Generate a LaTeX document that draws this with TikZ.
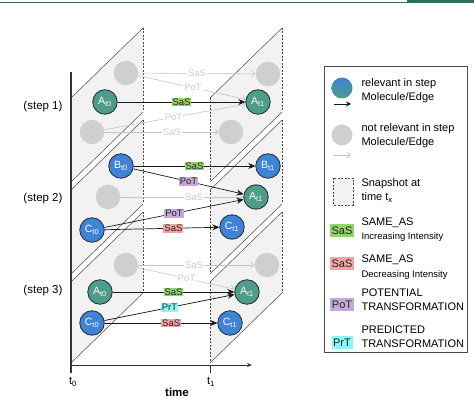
\documentclass[tikz,border=0pt]{standalone}
\usepackage{fontspec}
\setmainfont{Liberation Sans}
\usetikzlibrary{arrows.meta}
\definecolor{tealA}{HTML}{4E9C89}
\definecolor{blueC}{HTML}{3F82D6}
\definecolor{nodeborder}{HTML}{1E3130}
\definecolor{grayC}{HTML}{CFCFCF}
\definecolor{planefill}{HTML}{F2F2F2}
\definecolor{planeline}{HTML}{4A4A4A}
\definecolor{lightedge}{HTML}{C4C4C4}
\definecolor{lighttext}{HTML}{CDCDCD}
\definecolor{labgreen}{HTML}{93D36B}
\definecolor{labred}{HTML}{F2A3A3}
\definecolor{labpurple}{HTML}{C5A8D8}
\definecolor{labcyan}{HTML}{8AF7F7}
\definecolor{rulegreen}{HTML}{2F6F4F}
\newcommand{\snapplane}[3]{%
  \fill[planefill] (#1,#2+70) -- (#1+72,#2) -- (#1+72,#3) -- (#1,#3+70) -- cycle;
  \draw[planeedge] (#1,#2+70) -- (#1+72,#2) (#1,#3+70) -- (#1+72,#3);
  \draw[planedash] (#1,#2+70) -- (#1,#3+70) (#1+72,#2) -- (#1+72,#3);}
\begin{document}
\begin{tikzpicture}[x=1pt,y=-1pt,
  planeedge/.style={draw=planeline, line width=0.5pt},
  planedash/.style={draw=planeline, line width=0.5pt, dash pattern=on 2pt off 1.5pt},
  mol/.style={circle, draw=nodeborder, line width=0.8pt, minimum size=24.5pt, inner sep=0pt,
    text=white, font=\fontsize{10.5}{10.5}\selectfont},
  molA/.style={mol, fill=tealA},
  molB/.style={mol, fill=blueC},
  molG/.style={circle, fill=grayC, minimum size=24.5pt, inner sep=0pt},
  rel/.style={draw=black!90, line width=0.7pt, -{Stealth[length=7pt,width=6pt]}},
  irr/.style={draw=lightedge, line width=0.6pt, -{Straight Barb[length=3.5pt,width=6pt]}},
  lab/.style={font=\fontsize{9.5}{9.5}\selectfont, inner sep=1pt, text=black!85},
  lgreen/.style={lab, fill=labgreen},
  lred/.style={lab, fill=labred},
  lpurple/.style={lab, fill=labpurple},
  lcyan/.style={lab, fill=labcyan},
  lgray/.style={lab, fill=white, text=lighttext},
  steplab/.style={anchor=east, font=\fontsize{11.5}{13}\selectfont},
  legtext/.style={anchor=west, align=left, font=\fontsize{11}{14}\selectfont},
  legsmall/.style={anchor=west, font=\fontsize{9.5}{11}\selectfont},
  legbox/.style={font=\fontsize{11}{11}\selectfont, inner sep=1.5pt, minimum width=21pt, minimum height=13pt, text=black!85}
]
\useasboundingbox (0,0) rectangle (474,419);
% top rule
\fill[rulegreen] (0,2) rectangle (474,3);
\fill[rulegreen] (407,0) rectangle (474,3.5);

% snapshot planes
\snapplane{71}{28}{112}
\snapplane{71}{120}{204}
\snapplane{71}{212}{293}
\snapplane{210}{28}{112}
\snapplane{210}{120}{204}
\snapplane{210}{212}{293}

% axes
\coordinate (ytop) at (71,72);
\coordinate (ybot) at (71,373);
\coordinate (xo) at (71,365);
\coordinate (xend) at (252,365);
\coordinate (t1a) at (210,365);
\coordinate (t1b) at (210,373);
\draw[black!80, line width=1.4pt] (ytop) -- (ybot);
\draw[black!80, line width=0.8pt, -{Stealth[length=5pt,width=4pt]}] (xo) -- (xend);
\draw[black!80, line width=0.8pt] (t1a) -- (t1b);
\node[font=\fontsize{11}{11}\selectfont] (t0lab) at (73,382) {t\textsubscript{0}};
\node[font=\fontsize{11}{11}\selectfont] (t1lab) at (211,382) {t\textsubscript{1}};
\node[font=\bfseries\fontsize{11.5}{12}\selectfont] (timelab) at (177,392) {time};

% step labels
\node[steplab] (s1) at (66,107) {(step 1)};
\node[steplab] (s2) at (66,199) {(step 2)};
\node[steplab] (s3) at (66,291) {(step 3)};

% molecules step 1
\node[molG] (g1a0) at (126,73) {};
\node[molA] (a10) at (105,102) {A\textsubscript{t0}};
\node[molG] (g1b0) at (92,132) {};
\node[molG] (g1a1) at (268,74) {};
\node[molA] (a11) at (258,102) {A\textsubscript{t1}};
\node[molG] (g1b1) at (231,132) {};
% step 2
\node[molB] (b20) at (121,166) {B\textsubscript{t0}};
\node[molG] (g20) at (108,197) {};
\node[molB] (c20) at (92,230) {C\textsubscript{t0}};
\node[molB] (b21) at (268,166) {B\textsubscript{t1}};
\node[molA] (a21) at (256,197) {A\textsubscript{t1}};
\node[molB] (c21) at (232,227) {C\textsubscript{t1}};
% step 3
\node[molG] (g30) at (126,265) {};
\node[molA] (a30) at (100,292) {A\textsubscript{t0}};
\node[molB] (c30) at (92,323) {C\textsubscript{t0}};
\node[molG] (g31) at (267,265) {};
\node[molA] (a31) at (247,292) {A\textsubscript{t1}};
\node[molB] (c31) at (230,323) {C\textsubscript{t1}};

% edges step 1
\draw[irr] (g1a0) -- node[lgray,pos=0.5]{SaS} (g1a1);
\draw[irr] (g1a0) -- node[lgray,pos=0.51]{PoT} (a11);
\draw[irr] (g1b0) -- node[lgray,pos=0.49]{PoT} (a11);
\draw[irr] (g1b0) -- node[lgray,pos=0.59]{SaS} (g1b1);
\draw[rel] (a10) -- node[lgreen,pos=0.5]{SaS} (a11);
% edges step 2
\draw[irr] (g20) -- node[lgray,pos=0.6]{SaS} (a21);
\draw[rel] (b20) -- node[lgreen,pos=0.5]{SaS} (b21);
\draw[rel] (b20) -- node[lpurple,pos=0.5]{PoT} (a21);
\draw[rel] (c20) -- node[lpurple,pos=0.5]{PoT} (a21);
\draw[rel] (c20) -- node[lred,pos=0.6]{SaS} (c21);
% edges step 3
\draw[irr] (g30) -- node[lgray,pos=0.48]{SaS} (g31);
\draw[irr] (g30) -- node[lgray,pos=0.5]{PoT} (a31);
\draw[rel] (a30) -- node[lgreen,pos=0.5]{SaS} (a31);
\draw[rel] (c30) -- node[lcyan,pos=0.5]{PrT} (a31);
\draw[rel] (c30) -- node[lred,pos=0.59]{SaS} (c31);

% legend
\draw[black!70, line width=1pt] (324,67) rectangle (467,353);
\shade[top color=blueC, bottom color=tealA] (342,88) circle[radius=10.5pt];
\coordinate (la1) at (334,104);
\coordinate (la2) at (351,104);
\draw[rel, line width=0.9pt, -{Stealth[length=5pt,width=5pt]}] (la1) -- (la2);
\node[legtext] (lt1) at (358,91) {relevant in step\\Molecule/Edge};
\fill[grayC] (342,135) circle[radius=10.5pt];
\coordinate (lb1) at (334,155);
\coordinate (lb2) at (351,155);
\draw[irr] (lb1) -- (lb2);
\node[legtext] (lt2) at (358,135.5) {not relevant in step\\Molecule/Edge};
\draw[planefill, fill=planefill] (333,178) rectangle (353,205);
\draw[planedash] (333,178) rectangle (353,205);
\node[legtext] (lt3) at (358,190.5) {Snapshot at\\time t\textsubscript{x}};
\node[legbox, fill=labgreen] (lg1) at (342,231) {SaS};
\node[legtext] (lt4) at (358,223) {SAME\_AS};
\node[legsmall] (lt4b) at (358,237.5) {Increasing Intensity};
\node[legbox, fill=labred] (lg2) at (342,264) {SaS};
\node[legtext] (lt5) at (358,260) {SAME\_AS};
\node[legsmall] (lt5b) at (358,275) {Decreasing Intensity};
\node[legbox, fill=labpurple] (lg3) at (342,305) {PoT};
\node[legtext] (lt6) at (358,300) {POTENTIAL\\TRANSFORMATION};
\node[legbox, fill=labcyan] (lg4) at (342,343) {PrT};
\node[legtext] (lt7) at (358,337) {PREDICTED\\TRANSFORMATION};
\end{tikzpicture}
\end{document}
